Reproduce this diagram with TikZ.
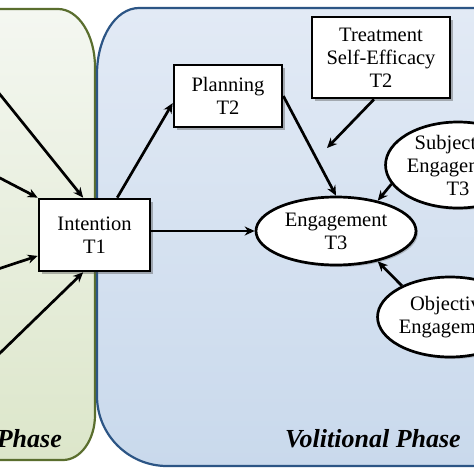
\documentclass[tikz,border=0pt]{standalone}
\usepackage{fontspec}
\setmainfont{Liberation Serif}
\usetikzlibrary{shapes.geometric,arrows.meta,calc,shadows}
\definecolor{greenedge}{HTML}{5A6E2E}
\definecolor{blueedge}{HTML}{2C5585}
\definecolor{greentop}{HTML}{F4F7F1}
\definecolor{greenbot}{HTML}{DCE6CA}
\definecolor{bluetop}{HTML}{E2EAF5}
\definecolor{bluemid}{HTML}{ACC2DF}
\definecolor{bluebot}{HTML}{C9D9EC}
\tikzset{
  lbl/.style={font=\fontsize{20.5}{23}\selectfont, align=center, text=black},
  boxnode/.style={lbl, draw=black, line width=2.7pt, fill=white, rectangle, inner sep=0pt,
    drop shadow={shadow xshift=2.5pt, shadow yshift=-2.5pt, opacity=0.4, fill=black!70}},
  ellnode/.style={lbl, draw=black, line width=2.7pt, fill=white, ellipse, inner sep=0pt,
    drop shadow={shadow xshift=2pt, shadow yshift=-2pt, opacity=0.3, fill=black!70}},
  arr/.style={line width=2.7pt, -{Stealth[length=10pt,width=9pt]}},
  phase/.style={font=\fontsize{26}{30}\selectfont\bfseries\itshape, text=black, inner sep=0pt},
}
\begin{document}
\begin{tikzpicture}[x=1pt, y=-1pt]
\useasboundingbox (0,0) rectangle (474,474);
\clip (0,0) rectangle (474,474);
\fill[white] (0,0) rectangle (474,474);
% panels
\path[draw=greenedge, line width=2.2pt, top color=greentop, bottom color=greenbot]
  (-100,9) -- (58,9) arc[start angle=-90, end angle=0, x radius=37, y radius=58]
  -- (95,415) arc[start angle=0, end angle=90, x radius=32, y radius=45]
  -- (-100,460) -- cycle;
\path[draw=blueedge, line width=2.2pt, top color=bluetop, middle color=bluemid, bottom color=bluebot]
  (600,8) -- (139,8) arc[start angle=270, end angle=180, x radius=42, y radius=66]
  -- (97,396) arc[start angle=180, end angle=90, x radius=70, y radius=70]
  -- (600,466) -- cycle;
% nodes
\node[boxnode, minimum width=111pt, minimum height=72pt] (int) at (94.5,235) {Intention\\T1};
\node[boxnode, minimum width=108pt, minimum height=62pt] (plan) at (228,96) {Planning\\T2};
\node[boxnode, minimum width=138pt, minimum height=81pt] (treat) at (381,57.5) {Treatment\\Self-Efficacy\\T2};
\node[ellnode, minimum width=160pt, minimum height=68pt] (eng) at (336,231) {Engagement\\T3};
\node[ellnode, minimum width=130pt, minimum height=86pt] (subj) at (458,165) {Subjective\\Engagement\\T3};
\node[ellnode, minimum width=132pt, minimum height=80pt] (obj) at (450,317) {Objective\\Engagement};
\node[phase, anchor=base] (vol) at (373,447) {Volitional Phase};
\node[phase, anchor=base east] (mot) at (62,447) {Phase};
% free ends
\coordinate (l1) at (-2,92);
\coordinate (l2) at (-2,177);
\coordinate (l3) at (-2,269);
\coordinate (l4) at (-2,355);
\coordinate (mod) at (327,148);
% connectors
\draw[arr] (l1) -- ($(int.north west)!0.4!(int.north east)$);
\draw[arr] (l2) -- (int.north west);
\draw[arr] (l3) -- ($(int.north west)!0.78!(int.south west)$);
\draw[arr] (l4) -- ($(int.south west)!0.4!(int.south east)$);
\draw[arr] ($(int.north west)!0.70!(int.north east)$) -- ($(plan.north west)!0.61!(plan.south west)$);
\draw[arr] (int.east |- eng.west) -- (eng.west);
\draw[arr] (plan.east) -- (eng.north);
\draw[arr] ($(treat.south west)!0.45!(treat.south east)$) -- (mod);
\draw[arr] (subj.196) -- (eng.36);
\draw[arr] (obj.147) -- (eng.-36);
\end{tikzpicture}
\end{document}
